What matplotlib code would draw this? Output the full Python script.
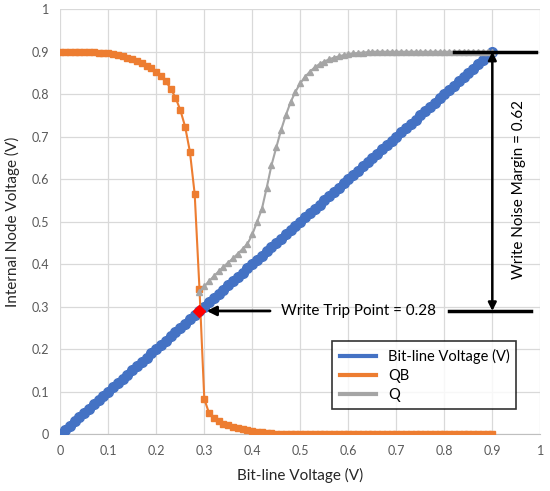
import numpy as np
import matplotlib
matplotlib.use('Agg')
import matplotlib.pyplot as plt

# bit-line sweep 0 .. 0.9 V in 10 mV steps
bl = np.round(np.arange(0, 0.901, 0.01), 2)

qb = [0.900, 0.900, 0.900, 0.900, 0.900, 0.900, 0.899, 0.899, 0.898, 0.897,
      0.896, 0.894, 0.892, 0.889, 0.886, 0.882, 0.878, 0.873, 0.867, 0.861,
      0.853, 0.843, 0.830, 0.813, 0.792, 0.763, 0.724, 0.665, 0.565, 0.341,
      0.083, 0.049, 0.037, 0.030, 0.025, 0.021, 0.018, 0.015, 0.012, 0.010,
      0.008, 0.006, 0.005, 0.003, 0.002, 0.001] + [0.0] * 45

q_x = bl[29:]
q = [0.335, 0.348, 0.360, 0.372, 0.383, 0.394, 0.404, 0.414, 0.425, 0.436,
     0.448, 0.470, 0.500, 0.530, 0.580, 0.633, 0.675, 0.716, 0.751, 0.782,
     0.806, 0.826, 0.841, 0.853, 0.863, 0.871, 0.877, 0.882, 0.886, 0.889,
     0.892, 0.894, 0.896, 0.897, 0.898, 0.899] + [0.9] * 26

trip_x, trip_y = 0.29, 0.29
wnm_top, wnm_bot = 0.9, 0.29

plt.rcParams['font.family'] = ['Lato', 'DejaVu Sans']

fig = plt.figure(figsize=(5.5, 4.91), dpi=100)
ax = fig.add_axes([0.1096, 0.1157, 0.8728, 0.8655])

ax.plot(bl, bl, color='#4472C4', lw=3, marker='o', ms=7, label='Bit-line Voltage (V)', zorder=3)
ax.plot(bl, qb, color='#ED7D31', lw=1.5, marker='s', ms=4.2, label='QB', zorder=4)
ax.plot(q_x, q, color='#A5A5A5', lw=1.5, marker='^', ms=4, label='Q', zorder=5)
ax.plot([trip_x], [trip_y], marker='D', color='red', ms=6, zorder=6)

# noise margin markers
ax.plot([0.82, 0.99], [wnm_top, wnm_top], color='black', lw=2.5, zorder=7)
ax.plot([0.81, 0.98], [wnm_bot, wnm_bot], color='black', lw=2.5, zorder=7)
ax.annotate('', xy=(0.9, wnm_bot), xytext=(0.9, wnm_top),
            arrowprops=dict(arrowstyle='<|-|>', color='black', lw=1.8, mutation_scale=12,
                            shrinkA=0, shrinkB=0), zorder=8)
ax.text(0.955, 0.575, 'Write Noise Margin = 0.62', rotation=90, ha='center', va='center',
        fontsize=11, color='black')
ax.annotate('', xy=(0.305, trip_y), xytext=(0.437, trip_y),
            arrowprops=dict(arrowstyle='-|>', color='black', lw=2, mutation_scale=14,
                            shrinkA=0, shrinkB=0), zorder=8)
ax.text(0.622, trip_y, 'Write Trip Point = 0.28', ha='center', va='center', fontsize=11, color='black')

ax.set_xlim(0, 1)
ax.set_ylim(0, 1)
ticks = np.round(np.arange(0, 1.01, 0.1), 1)
ax.set_xticks(ticks)
ax.set_yticks(ticks)
labels = ['0' if t == 0 else ('1' if t == 1 else f'{t:g}') for t in ticks]
ax.set_xticklabels(labels)
ax.set_yticklabels(labels)
ax.tick_params(length=0, labelsize=9, labelcolor='#595959', pad=8)
ax.grid(color='#D9D9D9', lw=0.9)
ax.set_axisbelow(True)
for s in ['top', 'right', 'left']:
    ax.spines[s].set_visible(False)
ax.spines['bottom'].set_color('#BFBFBF')

ax.set_xlabel('Bit-line Voltage (V)', fontsize=11, color='#262626', labelpad=8)
ax.set_ylabel('Internal Node Voltage (V)', fontsize=11, color='#262626', labelpad=8)

leg = ax.legend(loc='lower left', bbox_to_anchor=(0.567, 0.059, 0.382, 0.169), mode='expand',
                fontsize=10.5, frameon=True, fancybox=False, handlelength=2.5,
                borderaxespad=0, labelspacing=0.35, borderpad=0.5)
leg.get_frame().set_edgecolor('black')
leg.get_frame().set_linewidth(1.2)
for h in leg.legend_handles:
    h.set_marker('')
    h.set_linewidth(3)

fig.savefig('out.png', dpi=100)
